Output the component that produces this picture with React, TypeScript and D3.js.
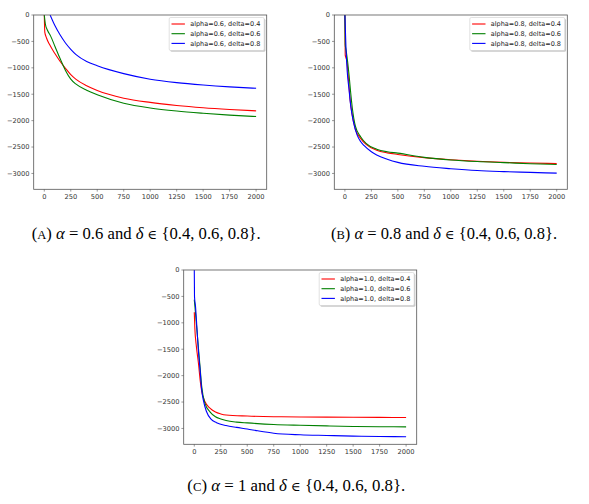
import * as d3 from 'd3';

type Pt = [number, number];

const xTicks = [0, 250, 500, 750, 1000, 1250, 1500, 1750, 2000];
const yTicks = [0, -500, -1000, -1500, -2000, -2500, -3000];
const deltas = ['0.4', '0.6', '0.8'];
const colors = ['#ff0000', '#008000', '#0000ff'];

// (A) alpha = 0.6
const a06d04: Pt[] = [
  [0, 0], [5, -330], [20, -430], [50, -560], [100, -730], [150, -880], [200, -1010],
  [250, -1130], [300, -1220], [400, -1340], [500, -1430], [750, -1575], [1000, -1655],
  [1250, -1712], [1500, -1755], [1750, -1788], [2000, -1815],
];
const a06d06: Pt[] = [
  [0, 0], [10, -170], [30, -290], [60, -400], [100, -590], [150, -830], [200, -1050],
  [250, -1215], [300, -1310], [400, -1425], [500, -1510], [750, -1670], [1000, -1760],
  [1250, -1818], [1500, -1860], [1750, -1895], [2000, -1922],
];
const a06d08: Pt[] = [
  [55, 0], [100, -200], [150, -380], [200, -530], [250, -650], [300, -750], [400, -880],
  [500, -960], [750, -1110], [1000, -1215], [1250, -1280], [1500, -1325], [1750, -1360],
  [2000, -1387],
];

// (B) alpha = 0.8
const a08d04: Pt[] = [
  [0, 0], [3, -760], [12, -820], [22, -920], [35, -1250], [50, -1620], [70, -1900],
  [100, -2170], [150, -2340], [200, -2450], [300, -2560], [400, -2610], [500, -2640],
  [750, -2700], [1000, -2740], [1250, -2770], [1500, -2790], [1750, -2803], [2000, -2812],
];
const a08d06: Pt[] = [
  [0, 0], [3, -560], [12, -680], [25, -870], [40, -1150], [55, -1480], [70, -1760],
  [100, -2110], [150, -2310], [200, -2430], [300, -2540], [400, -2590], [500, -2615],
  [750, -2695], [1000, -2745], [1250, -2775], [1500, -2795], [1750, -2815], [2000, -2830],
];
const a08d08: Pt[] = [
  [0, 0], [10, -600], [22, -1070], [38, -1390], [55, -1720], [80, -2020], [115, -2270],
  [150, -2400], [180, -2470], [250, -2590], [300, -2650], [400, -2730], [500, -2790],
  [750, -2865], [1000, -2910], [1250, -2945], [1500, -2965], [1750, -2980], [2000, -2994],
];

// (C) alpha = 1.0
const a10d04: Pt[] = [
  [0, -800], [5, -1100], [20, -1450], [40, -1780], [55, -2080], [70, -2300], [100, -2490],
  [150, -2620], [200, -2690], [250, -2725], [300, -2745], [500, -2765], [750, -2778],
  [1000, -2782], [1250, -2786], [1500, -2789], [1750, -2791], [2000, -2793],
];
const a10d06: Pt[] = [
  [0, -560], [6, -690], [22, -1070], [38, -1450], [55, -1850], [70, -2200], [100, -2520],
  [150, -2690], [200, -2780], [250, -2820], [300, -2850], [400, -2880], [500, -2895],
  [750, -2925], [1000, -2940], [1250, -2952], [1500, -2962], [1750, -2967], [2000, -2970],
];
const a10d08: Pt[] = [
  [0, 0], [2, -500], [12, -700], [25, -1100], [38, -1510], [55, -1900], [70, -2270],
  [85, -2460], [115, -2680], [160, -2830], [210, -2890], [300, -2945], [400, -2980],
  [500, -3010], [600, -3045], [750, -3090], [1000, -3120], [1250, -3133], [1500, -3145],
  [1750, -3152], [2000, -3158],
];

const panels = [
  { id: 'a', letter: 'A', alpha: '0.6', capAlpha: '0.6', series: [a06d04, a06d06, a06d08],
    left: 33.7, top: 15, capX: 31.7, capY: 238.5, capW: 229 },
  { id: 'b', letter: 'B', alpha: '0.8', capAlpha: '0.8', series: [a08d04, a08d06, a08d08],
    left: 334.3, top: 15, capX: 331, capY: 238.5, capW: 226 },
  { id: 'c', letter: 'C', alpha: '1.0', capAlpha: '1', series: [a10d04, a10d06, a10d08],
    left: 183.7, top: 270, capX: 187.3, capY: 491, capW: 218 },
];

const W = 233;
const H = 174.3;
const tickFont = 'DejaVu Sans, sans-serif';
const fmt = d3.format('d');

function Panel({ p }: { p: (typeof panels)[number] }) {
  const x = d3.scaleLinear().domain([-100, 2100]).range([p.left, p.left + W]);
  const y = d3.scaleLinear().domain([-3300, 0]).range([p.top + H, p.top]);
  const line = d3.line<Pt>().x((d) => x(d[0])).y((d) => y(d[1])).curve(d3.curveMonotoneX);
  const bottom = p.top + H;

  const legW = 95;
  const legH = 33;
  const legX = p.left + W - 2.5 - legW;
  const legY = p.top + 2.5;

  return (
    <g>
      <defs>
        <clipPath id={`clip-${p.id}`}>
          <rect x={p.left} y={p.top} width={W} height={H} />
        </clipPath>
      </defs>
      <g clipPath={`url(#clip-${p.id})`}>
        {p.series.map((s, i) => (
          <path key={i} d={line(s) ?? ''} fill="none" stroke={colors[i]} strokeWidth={1.1} />
        ))}
      </g>
      <rect x={p.left} y={p.top} width={W} height={H} fill="none" stroke="#555" strokeWidth={0.8} />
      {xTicks.map((t) => (
        <g key={t}>
          <line x1={x(t)} x2={x(t)} y1={bottom} y2={bottom + 2.3} stroke="#555" strokeWidth={0.6} />
          <text x={x(t)} y={bottom + 9.6} fontSize={6.7} fontFamily={tickFont} fill="#333" textAnchor="middle">
            {fmt(t)}
          </text>
        </g>
      ))}
      {yTicks.map((t) => (
        <g key={t}>
          <line x1={p.left - 2.3} x2={p.left} y1={y(t)} y2={y(t)} stroke="#555" strokeWidth={0.6} />
          <text x={p.left - 4.2} y={y(t) + 2.3} fontSize={6.7} fontFamily={tickFont} fill="#333" textAnchor="end">
            {fmt(t)}
          </text>
        </g>
      ))}
      <rect x={legX + 1.2} y={legY + 1.2} width={legW} height={legH} rx={1.5} fill="#888" opacity={0.45} />
      <rect x={legX} y={legY} width={legW} height={legH} rx={1.5} fill="#fff" stroke="#ccc" strokeWidth={0.6} />
      {deltas.map((d, i) => {
        const ry = legY + 6.5 + i * 9.7;
        return (
          <g key={d}>
            <line x1={legX + 2.3} x2={legX + 15.7} y1={ry} y2={ry} stroke={colors[i]} strokeWidth={1.1} />
            <text x={legX + 21} y={ry + 2.3} fontSize={6.5} fontFamily={tickFont} fill="#222">
              {`alpha=${p.alpha}, delta=${d}`}
            </text>
          </g>
        );
      })}
      <text
        x={p.capX}
        y={p.capY}
        fontSize={16.5}
        fontFamily="Liberation Serif, serif"
        fill="#000"
        textLength={p.capW}
        lengthAdjust="spacingAndGlyphs"
      >
        (<tspan fontSize={12.5}>{p.letter}</tspan>) <tspan fontStyle="italic">α</tspan> = {p.capAlpha} and{' '}
        <tspan fontStyle="italic">δ</tspan> <tspan fontFamily="DejaVu Serif, serif" fontSize={13}>∈</tspan>{' '}
        {'{'}0.4, 0.6, 0.8{'}'}.
      </text>
    </g>
  );
}

export default function App() {
  return (
    <div style={{ position: 'absolute', left: 0, top: 0 }}>
      <svg width={589} height={504} style={{ display: 'block', background: '#fff' }}>
        {panels.map((p) => (
          <Panel key={p.id} p={p} />
        ))}
      </svg>
    </div>
  );
}
